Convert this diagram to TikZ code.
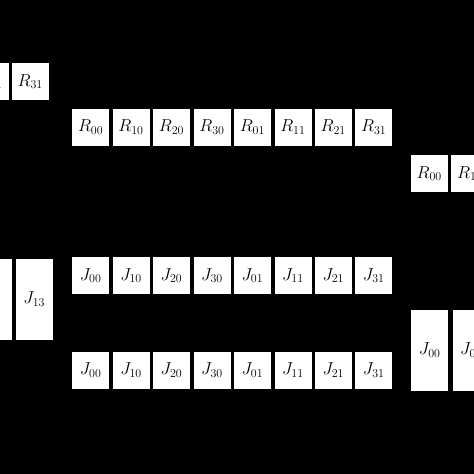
\documentclass[tikz,border=0pt]{standalone}
\begin{document}
\begin{tikzpicture}[x=1pt,y=-1pt,
  cell/.style={rectangle,fill=white,draw=black,line width=0.6pt,inner sep=0pt,
    minimum width=38pt,minimum height=38pt,font=\fontsize{16.5}{19}\selectfont},
  tallcell/.style={cell,minimum height=82pt}]
\fill[black] (0,0) rectangle (474,474);
\useasboundingbox (0,0) rectangle (474,474);
\clip (0,0) rectangle (474,474);
% top-left fragment
\node[cell] (tlA) at (-10,81.5) {$R_{21}$};
\node[cell] (tlB) at (30.3,81.5) {$R_{31}$};
% row of R
\foreach \lab [count=\i from 0] in {00,10,20,30,01,11,21,31}{
  \node[cell] (r\i) at (90.6+40.45*\i,127) {$R_{\lab}$};
}
% right R fragment
\node[cell] (rr0) at (429.3,173.7) {$R_{00}$};
\node[cell] (rr1) at (469.7,173.7) {$R_{10}$};
% left tall J
\node[tallcell] (lj0) at (-6.6,298.8) {};
\node[tallcell] (lj1) at (34.3,298.8) {$J_{13}$};
% rows of J
\foreach \lab [count=\i from 0] in {00,10,20,30,01,11,21,31}{
  \node[cell] (ja\i) at (90.6+40.45*\i,275.5) {$J_{\lab}$};
  \node[cell] (jb\i) at (90.6+40.45*\i,370) {$J_{\lab}$};
}
% right tall J
\node[tallcell] (rj0) at (429.7,349.8) {$J_{00}$};
\node[tallcell] (rj1) at (471,349.8) {$J_{01}$};
\end{tikzpicture}
\end{document}
